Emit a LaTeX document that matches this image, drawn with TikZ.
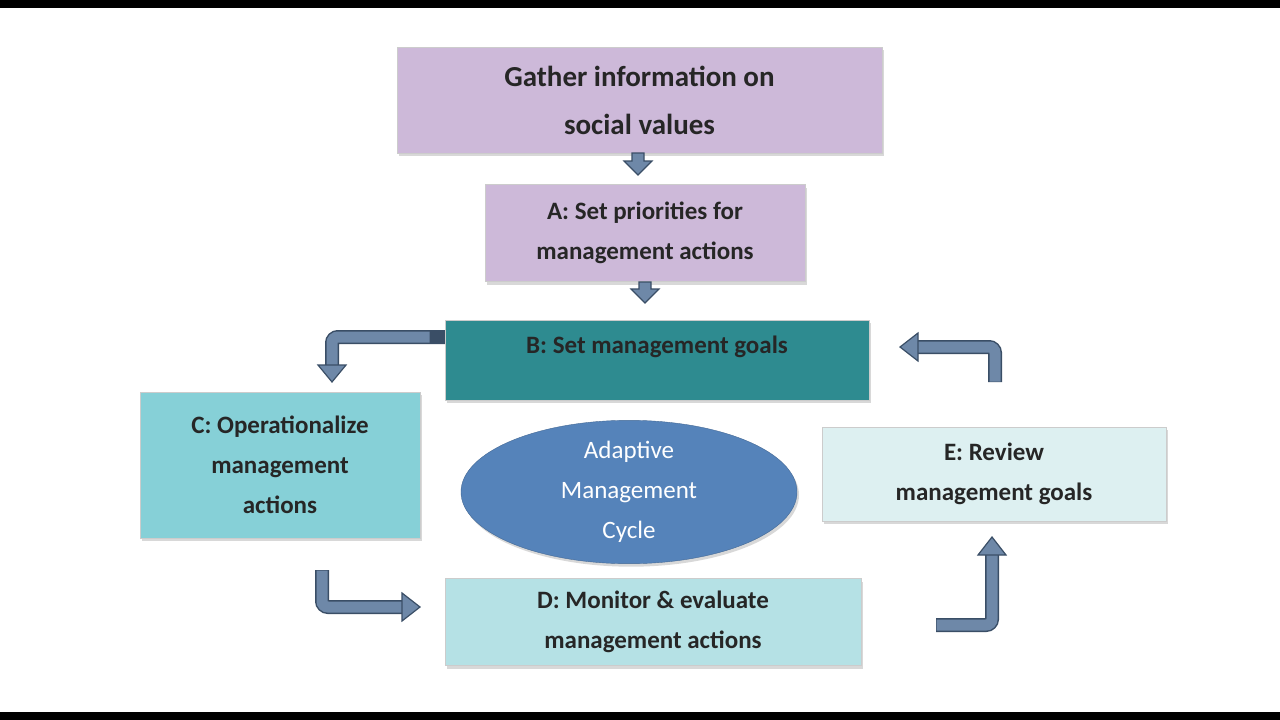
\documentclass[tikz,border=0pt]{standalone}
\usepackage{fontspec}
\setmainfont{Carlito}
\usetikzlibrary{shadows,shapes.geometric}
\definecolor{purp}{HTML}{CDB9D9}
\definecolor{tealB}{HTML}{2E8B90}
\definecolor{tealC}{HTML}{86D0D7}
\definecolor{tealD}{HTML}{B5E1E5}
\definecolor{tealE}{HTML}{DDF0F1}
\definecolor{ellc}{HTML}{5583BA}
\definecolor{arrf}{HTML}{6E88A8}
\definecolor{arrd}{HTML}{3A4E66}
\tikzset{
 box/.style={draw=gray!40, inner sep=0pt, align=center, font=\bfseries, text=black!85,
   drop shadow={shadow xshift=2pt,shadow yshift=-3pt,opacity=0.3}},
 shaft/.style={line width=14pt, draw=arrd},
 shaftin/.style={line width=11pt, draw=arrf},
 head/.style={fill=arrf, draw=arrd, line width=1.2pt, line join=miter},
}
\begin{document}
\begin{tikzpicture}[x=1pt,y=-1pt]
\fill[white] (0,0) rectangle (1280,720);
\fill[black] (0,0) rectangle (1280,8);
\fill[black] (0,712) rectangle (1280,720);
\node[box, fill=purp, minimum width=485pt, minimum height=106pt, font=\fontsize{29}{48}\selectfont\bfseries] (top) at (639.5,100) {Gather information on\\social values};
\node[box, fill=purp, minimum width=320pt, minimum height=97pt, font=\fontsize{25}{40}\selectfont\bfseries] (A) at (645,233) {A: Set priorities for\\management actions};
\node[box, fill=tealB, minimum width=424pt, minimum height=80pt] (B) at (657,360) {};
\node[font=\fontsize{25}{30}\selectfont\bfseries, text=black!85] (Bt) at (657,347) {B: Set management goals};
\node[box, fill=tealC, minimum width=280pt, minimum height=146pt, font=\fontsize{25}{40}\selectfont\bfseries] (C) at (280,465) {C: Operationalize\\management\\actions};
\node[box, fill=tealE, minimum width=344pt, minimum height=94pt, font=\fontsize{25}{40}\selectfont\bfseries] (E) at (994,474) {E: Review\\management goals};
\node[box, fill=tealD, minimum width=416pt, minimum height=87pt, font=\fontsize{25}{40}\selectfont\bfseries] (D) at (653,622) {D: Monitor \& evaluate\\management actions};
\node[ellipse, fill=ellc, draw=ellc!80!black, minimum width=336pt, minimum height=136pt, inner sep=0pt, align=center, text=white, font=\fontsize{25}{40}\selectfont,
  drop shadow={shadow xshift=2pt,shadow yshift=-3pt,opacity=0.3}] (cyc) at (629,492) {Adaptive\\Management\\Cycle};
% straight down arrows
\coordinate (a1) at (top.south -| 638,0);
\draw[head] (632,153) -- (644,153) -- (644,161) -- (652,161) -- (638,175) -- (624,161) -- (632,161) -- cycle;
\draw[head] (639,282) -- (651,282) -- (651,289) -- (659,289) -- (645,303) -- (631,289) -- (639,289) -- cycle;
% B -> C
\draw[shaft, rounded corners=6pt] (B.west |- 0,337) -- (332,337) -- (332,366);
\draw[shaftin, rounded corners=6pt] (429.5,337) -- (332,337) -- (332,367);
\draw[head] (318,365) -- (346,365) -- (332,382) -- cycle;
% C -> D
\draw[shaft, rounded corners=6pt] (322,570) -- (322,607) -- (402,607);
\draw[shaftin, rounded corners=6pt] (322,570.5) -- (322,607) -- (403,607);
\draw[head] (402,593) -- (402,621) -- (420,607) -- cycle;
% D -> E
\draw[shaft, rounded corners=6pt] (936,625) -- (992,625) -- (992,554);
\draw[shaftin, rounded corners=6pt] (936.5,625) -- (992,625) -- (992,553);
\draw[head] (978,555) -- (1006,555) -- (992,537) -- cycle;
% E -> B
\draw[shaft, rounded corners=6pt] (995,382) -- (995,347) -- (918,347);
\draw[shaftin, rounded corners=6pt] (995,381.5) -- (995,347) -- (917,347);
\draw[head] (918,333) -- (918,361) -- (900,347) -- cycle;
\end{tikzpicture}
\end{document}
